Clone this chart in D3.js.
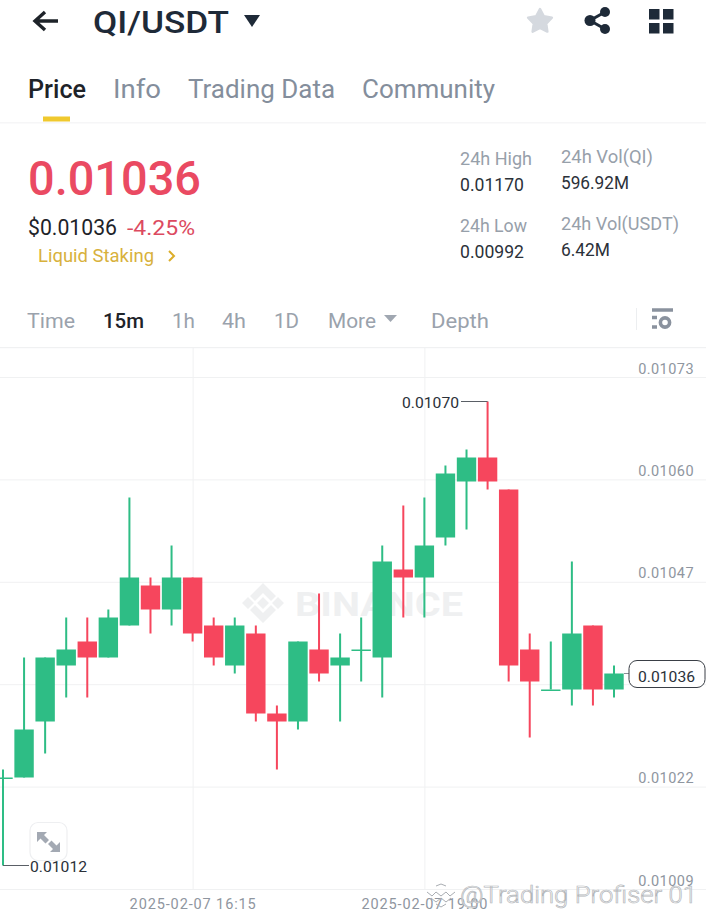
<!DOCTYPE html>
<html>
<head>
<meta charset="utf-8">
<title>QI/USDT</title>
<script src="https://cdn.jsdelivr.net/npm/d3@7"></script>
<style>
    html, body { margin: 0; padding: 0; background: #fff; overflow: hidden; }
    svg { display: block; }
    text { font-family: Roboto, "Noto Sans", sans-serif; }
</style>
</head>
<body>
<script>
"use strict";

// one entry per 15m candle, 2025-02-07
const times = ["14:00","14:15","14:30","14:45","15:00","15:15","15:30","15:45","16:00","16:15",
    "16:30","16:45","17:00","17:15","17:30","17:45","18:00","18:15","18:30","18:45",
    "19:00","19:15","19:30","19:45","20:00","20:15","20:30","20:45","21:00","21:15"]
const opens = [0.01023,0.01023,0.01030,0.01037,0.01040,0.01038,0.01042,0.01047,0.01044,0.01048,
    0.01042,0.01037,0.01041,0.01031,0.01030,0.01039,0.01037,0.01039,0.01038,0.01049,
    0.01048,0.01053,0.01060,0.01063,0.01059,0.01039,0.01034,0.01034,0.01042,0.01034]
const closes = [0.01023,0.01029,0.01038,0.01039,0.01038,0.01043,0.01048,0.01044,0.01048,0.01041,
    0.01038,0.01042,0.01031,0.01030,0.01040,0.01036,0.01038,0.01039,0.01050,0.01048,
    0.01052,0.01061,0.01063,0.01060,0.01037,0.01035,0.01034,0.01041,0.01034,0.01036]
const highs = [0.01024,0.01038,0.01038,0.01043,0.01043,0.01044,0.01058,0.01048,0.01052,0.01048,
    0.01043,0.01043,0.01042,0.01032,0.01040,0.01046,0.01041,0.01043,0.01052,0.01057,
    0.01058,0.01062,0.01064,0.01070,0.01059,0.01041,0.01040,0.01050,0.01042,0.01037]
const lows = [0.01012,0.01023,0.01026,0.01033,0.01033,0.01038,0.01042,0.01041,0.01042,0.01040,
    0.01037,0.01036,0.01030,0.01024,0.01029,0.01035,0.01030,0.01035,0.01033,0.01043,
    0.01043,0.01052,0.01054,0.01059,0.01035,0.01028,0.01034,0.01032,0.01032,0.01033]

const priceTicks = [0.01073,0.010602,0.010474,0.010346,0.010218,0.01009]
const timeTicks = ["16:15","19:00"]
const tabs = ["Price","Info","Trading Data","Community"]
const intervals = ["Time","15m","1h","4h","1D","More","Depth"]

const GREEN = "#2ebd85"
const RED = "#f6465d"
const GRID = "#f0f1f2"
const DARK = "#1e2a38"

const parseTime = d3.timeParse("%Y-%m-%d %H:%M")
const dayTime = (t) => parseTime("2025-02-07 " + t)

const svg = d3.select("body").append("svg")
    .attr("width", 706)
    .attr("height", 917)

// text with a fixed drawn width, the screenshot's font is narrower than ours
function label(x, y, str, size, color, weight, width) {
    const t = svg.append("text")
        .attr("x", x)
        .attr("y", y)
        .attr("font-size", size)
        .attr("font-weight", weight || 400)
        .attr("fill", color)
        .text(str)
    if (width) {
        t.attr("textLength", width).attr("lengthAdjust", "spacingAndGlyphs")
    }
    return t
}

function drawHeader() {
    svg.append("path")
        .attr("d", "M58 21H36M45 12l-10 9 10 9")
        .attr("fill", "none").attr("stroke", "#1e2329").attr("stroke-width", 3.4)
    label(93, 33, "QI/USDT", 32, DARK, 500, 136)
    svg.append("path").attr("d", "M244 15h16l-8 12z").attr("fill", DARK)

    // star
    const star = d3.range(10).map((i) => {
        const r = i % 2 ? 6.5 : 12.5
        const a = -Math.PI / 2 + i * Math.PI / 5
        return [540 + r * Math.cos(a), 21.5 + r * Math.sin(a)]
    })
    svg.append("path").attr("d", d3.line()(star) + "Z")
        .attr("fill", "#d5d9df").attr("stroke", "#d5d9df")
        .attr("stroke-width", 2.5).attr("stroke-linejoin", "round")

    // share
    svg.append("path")
        .attr("d", "M605 12L590 20.5L605 29")
        .attr("fill", "none").attr("stroke", DARK).attr("stroke-width", 3)
    svg.selectAll(".share").data([[605, 12, 5], [590, 20.5, 5.5], [605, 29, 5]]).enter()
        .append("circle")
        .attr("cx", (d) => d[0]).attr("cy", (d) => d[1]).attr("r", (d) => d[2])
        .attr("fill", DARK)

    // grid icon
    svg.selectAll(".cell").data([[649, 9], [663, 9], [649, 23], [663, 23]]).enter()
        .append("rect")
        .attr("x", (d) => d[0]).attr("y", (d) => d[1])
        .attr("width", 10.5).attr("height", 10.5)
        .attr("fill", DARK)

    const tabX = [28, 113, 188, 362]
    const tabW = [58, 48, 147, 133]
    tabs.forEach((t, i) => {
        label(tabX[i], 98, t, 25, i === 0 ? "#1e2329" : "#848e9c", i === 0 ? 500 : 400, tabW[i])
    })
    svg.append("rect").attr("x", 43).attr("y", 116.5).attr("width", 27).attr("height", 5).attr("fill", "#f0c92e")
    svg.append("rect").attr("x", 0).attr("y", 122).attr("width", 706).attr("height", 1.5).attr("fill", "#f6f6f7")
}

function drawQuote() {
    label(28, 195, "0.01036", 49, "#ea4a62", 500, 173)
    label(28, 235, "$0.01036", 22, "#1e2329", 400, 89)
    label(127, 235, "-4.25%", 21, "#dc4a60", 400, 68)
    label(38, 262, "Liquid Staking", 18.5, "#d8b13c", 400, 116)
    svg.append("path")
        .attr("d", "M169 251l5 5-5 5")
        .attr("fill", "none").attr("stroke", "#dcae2a").attr("stroke-width", 2)

    const gray = "#97a0aa"
    const dark = "#2b3139"
    label(460, 165, "24h High", 18.5, gray, 400, 72)
    label(460, 191, "0.01170", 17.5, dark, 400, 64)
    label(561, 163, "24h Vol(QI)", 18.5, gray, 400, 92)
    label(561, 189, "596.92M", 17.5, dark, 400, 68)
    label(460, 232, "24h Low", 18.5, gray, 400, 67)
    label(460, 258, "0.00992", 17.5, dark, 400, 64)
    label(561, 230, "24h Vol(USDT)", 18.5, gray, 400, 118)
    label(561, 256, "6.42M", 17.5, dark, 400, 49)
}

function drawIntervals() {
    const tabX = [27, 103, 172, 222, 274, 328, 431]
    const tabW = [48, 41, 23, 24, 25, 48, 58]
    intervals.forEach((t, i) => {
        label(tabX[i], 328, t, 21, i === 1 ? "#1e2329" : "#9aa2ac", i === 1 ? 500 : 400, tabW[i])
    })
    svg.append("path").attr("d", "M384 315h13l-6.5 7z").attr("fill", "#a0a7b1")
    svg.append("rect").attr("x", 636).attr("y", 308).attr("width", 1).attr("height", 22).attr("fill", "#eceef0")

    // chart settings icon
    svg.append("path")
        .attr("d", "M652 310h21M652 317.5h5M652 327h5")
        .attr("stroke", "#8a929e").attr("stroke-width", 3.4)
    svg.append("circle").attr("cx", 665).attr("cy", 322.5).attr("r", 4.6)
        .attr("fill", "none").attr("stroke", "#8a929e").attr("stroke-width", 3.6)

    svg.append("rect").attr("x", 0).attr("y", 347).attr("width", 706).attr("height", 1.2).attr("fill", "#f0f1f2")
}

function drawWatermark() {
    const shade = "#eff0f1"
    svg.append("path")
        .attr("d", "M263 583l13 13-5 5-8-8-8 8-5-5z" +
            "M263 623l13-13-5-5-8 8-8-8-5 5z" +
            "M263 597l6 6-6 6-6-6z" +
            "M248 597l6 6-6 6-6-6z" +
            "M278 597l6 6-6 6-6-6z")
        .attr("fill", shade)
    label(295, 616, "BINANCE", 34, shade, 700, 168)
}

function drawChart() {
    const x = d3.scaleTime()
        .domain([dayTime(times[0]), dayTime(times[times.length - 1])])
        .range([3, 614])
    const y = d3.scaleLinear()
        .domain([0.01073, 0.01009])
        .range([377.5, 889.5])

    // horizontal grid, price labels sit just above their line
    const gridY = d3.axisRight(y)
        .offset(0)
        .tickValues(priceTicks)
        .tickSize(706)
        .tickFormat((d) => d === 0.010346 ? "" : d3.format(".5f")(d))
    svg.append("g").call(gridY)
        .call((g) => g.select(".domain").remove())
        .call((g) => g.selectAll("line").attr("stroke", GRID))
        .call((g) => g.selectAll("text")
            .attr("x", 694).attr("dy", -4)
            .attr("text-anchor", "end")
            .attr("font-size", 14.5).attr("letter-spacing", 0.45)
            .attr("fill", "#8f96a0"))

    const gridX = d3.axisBottom(x)
        .tickValues(timeTicks.map(dayTime))
        .tickSize(890 - 347)
        .tickFormat(d3.timeFormat("%Y-%m-%d %H:%M"))
    svg.append("g").attr("transform", "translate(0,347)").call(gridX)
        .call((g) => g.select(".domain").remove())
        .call((g) => g.selectAll("line").attr("stroke", GRID))
        .call((g) => g.selectAll("text")
            .attr("y", 557).attr("dy", "0.32em")
            .attr("font-size", 14.5).attr("letter-spacing", 0.88)
            .attr("fill", "#8f96a0"))

    drawWatermark()

    const bodyWidth = 19.4
    const candles = svg.append("g").selectAll("g")
        .data(times)
        .enter().append("g")
        .attr("fill", (d, i) => closes[i] >= opens[i] ? GREEN : RED)

    candles.append("rect")
        .attr("x", (d) => x(dayTime(d)) - 1)
        .attr("width", 2)
        .attr("y", (d, i) => y(highs[i]))
        .attr("height", (d, i) => y(lows[i]) - y(highs[i]))

    candles.append("rect")
        .attr("x", (d) => x(dayTime(d)) - bodyWidth / 2)
        .attr("width", bodyWidth)
        .attr("y", (d, i) => y(Math.max(opens[i], closes[i])))
        .attr("height", (d, i) => Math.max(1.5, Math.abs(y(opens[i]) - y(closes[i]))))

    // high / low markers
    const lowAt = x(dayTime(times[0]))
    const highAt = x(dayTime("19:45"))
    svg.append("path")
        .attr("d", "M" + lowAt + " " + y(0.01012) + "H29")
        .attr("fill", "none").attr("stroke", "#5a5f66").attr("stroke-width", 1)
    label(30, y(0.01012) + 6, d3.format(".5f")(0.01012), 14.5, "#2b3139", 400, 57)
    svg.append("path")
        .attr("d", "M461 " + y(0.0107) + "H" + highAt)
        .attr("fill", "none").attr("stroke", "#5a5f66").attr("stroke-width", 1)
    label(402, y(0.0107) + 6, d3.format(".5f")(0.0107), 14.5, "#2b3139", 400, 57)

    // current price tag
    const last = closes[closes.length - 1]
    svg.append("path")
        .attr("d", "M624 " + y(last) + "H629")
        .attr("stroke", "#8a8f96").attr("stroke-width", 1)
    svg.append("rect")
        .attr("x", 629).attr("y", 660.5)
        .attr("width", 76).attr("height", 27).attr("rx", 8)
        .attr("fill", "#fff").attr("stroke", "#3a3f46").attr("stroke-width", 1)
    label(638, 682, d3.format(".5f")(last), 14.5, "#2b3139", 400, 57)
}

function drawExpandButton() {
    svg.append("rect")
        .attr("x", 30).attr("y", 822.5)
        .attr("width", 37).attr("height", 38).attr("rx", 8)
        .attr("fill", "#fff").attr("stroke", "#eeeff1").attr("stroke-width", 1.2)
    svg.append("path")
        .attr("d", "M37 832h10l-3 3 5 5-3.5 3.5-5-5-3.5 3.5z" +
            "M60 852h-10l3-3-5-5 3.5-3.5 5 5 3.5-3.5z")
        .attr("fill", "#a3a9b3")
}

function drawSignature() {
    // hollow watermark text along the bottom right
    svg.append("text")
        .attr("x", 460).attr("y", 903)
        .attr("font-size", 24)
        .attr("font-weight", 300)
        .attr("fill", "#fff").attr("fill-opacity", 0.85)
        .attr("stroke", "#b4b7bb").attr("stroke-width", 0.7)
        .attr("textLength", 237).attr("lengthAdjust", "spacingAndGlyphs")
        .text("@Trading Profiser 01")
    svg.append("path")
        .attr("d", "M427 892l5 4 4-4 5 4 5-4 4 4 5-4" +
            "M431 898l5 4 5-4 5 4 5-4" +
            "M436 904l5 3 5-3" +
            "M436 886l5-2 5 2")
        .attr("fill", "none").attr("stroke", "#a9adb2").attr("stroke-width", 1)
}

drawChart()
drawHeader()
drawQuote()
drawIntervals()
drawExpandButton()
drawSignature()
</script>
</body>
</html>
